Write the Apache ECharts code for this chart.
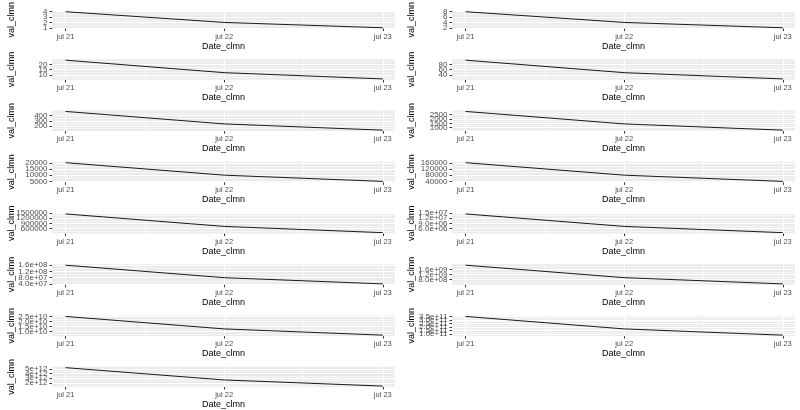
<!DOCTYPE html>
<html><head><meta charset="utf-8">
<script src="https://cdn.jsdelivr.net/npm/echarts@6/dist/echarts.min.js"></script>
<style>html,body{margin:0;padding:0;background:#fff}#c{width:800px;height:410px}</style>
</head><body><div id="c"></div>
<script>
// ---- data ----
const dates = ["jul 21", "jul 22", "jul 23"];
const jul21 = [4, 8, 24, 96, 480, 2880, 20160, 161280, 1451520, 14515200, 159667200, 1916006400, 24908083200, 348713164800, 5230697472000];
const jul22 = [2, 4, 12, 48, 240, 1440, 10080, 80640, 725760, 7257600, 79833600, 958003200, 12454041600, 174356582400, 2615348736000];
const jul23 = [1, 2, 6, 24, 120, 720, 5040, 40320, 362880, 3628800, 39916800, 479001600, 6227020800, 87178291200, 1307674368000];
const yTicks = [
  [1, 2, 3, 4],
  [2, 4, 6, 8],
  [10, 15, 20],
  [40, 60, 80],
  [200, 300, 400],
  [1000, 1500, 2000, 2500],
  [5000, 10000, 15000, 20000],
  [40000, 80000, 120000, 160000],
  [600000, 900000, 1200000, 1500000],
  [6e6, 9e6, 1.2e7, 1.5e7],
  [4e7, 8e7, 1.2e8, 1.6e8],
  [8e8, 1.2e9, 1.6e9],
  [1e10, 1.5e10, 2e10, 2.5e10],
  [1e11, 1.5e11, 2e11, 2.5e11, 3e11, 3.5e11],
  [2e12, 3e12, 4e12, 5e12]
];
const yTickLabels = [
  ["1", "2", "3", "4"],
  ["2", "4", "6", "8"],
  ["10", "15", "20"],
  ["40", "60", "80"],
  ["200", "300", "400"],
  ["1000", "1500", "2000", "2500"],
  ["5000", "10000", "15000", "20000"],
  ["40000", "80000", "120000", "160000"],
  ["600000", "900000", "1200000", "1500000"],
  ["6.0e+06", "9.0e+06", "1.2e+07", "1.5e+07"],
  ["4.0e+07", "8.0e+07", "1.2e+08", "1.6e+08"],
  ["8.0e+08", "1.2e+09", "1.6e+09"],
  ["1.0e+10", "1.5e+10", "2.0e+10", "2.5e+10"],
  ["1.0e+11", "1.5e+11", "2.0e+11", "2.5e+11", "3.0e+11", "3.5e+11"],
  ["2e+12", "3e+12", "4e+12", "5e+12"]
];
const xTitle = "Date_clmn";
const yTitle = "val_clmn";

// ---- layout / style ----
const FONT = "Liberation Sans";
const ROW_H = 51.25, PANEL_TOP = 8, PANEL_H = 20.6;
const COL_LEFT = [52, 452], PANEL_W = 343;
const X_MIN = -0.085, X_MAX = 2.077;
const LABEL_COLOR = '#4D4D4D', TICK_COLOR = '#333333';

const chart = echarts.init(document.getElementById('c'), null, {renderer: 'canvas'});
const grid = [], xAxis = [], yAxis = [], series = [];

for (let i = 0; i < jul21.length; i++) {
  const row = Math.floor(i / 2), col = i % 2;
  grid.push({
    left: COL_LEFT[col], top: row * ROW_H + PANEL_TOP, width: PANEL_W, height: PANEL_H,
    show: true, backgroundColor: '#EBEBEB', borderWidth: 0, containLabel: false
  });
  const vals = [jul21[i], jul22[i], jul23[i]];
  const lo = Math.min(...vals), hi = Math.max(...vals), pad = 0.05 * (hi - lo);
  const yMin = lo - pad, yMax = hi + pad;
  const ticks = yTicks[i], labels = yTickLabels[i];
  const step = ticks[1] - ticks[0];
  const minors = [];
  if (ticks[0] - step / 2 >= yMin) minors.push(ticks[0] - step / 2);
  for (let k = 0; k < ticks.length - 1; k++) minors.push((ticks[k] + ticks[k + 1]) / 2);
  if (ticks[ticks.length - 1] + step / 2 <= yMax) minors.push(ticks[ticks.length - 1] + step / 2);

  // minor x grid
  xAxis.push({
    type: 'value', gridIndex: i, min: X_MIN, max: X_MAX, position: 'bottom',
    axisLine: {show: false}, axisTick: {show: false, customValues: [0.5, 1.5]},
    axisLabel: {show: false, customValues: [0.5, 1.5]},
    splitLine: {show: true, lineStyle: {color: '#FFFFFF', width: 0.5}}
  });
  // major x axis
  const xIdx = xAxis.length;
  xAxis.push({
    type: 'value', gridIndex: i, min: X_MIN, max: X_MAX, position: 'bottom',
    name: xTitle, nameLocation: 'middle', nameGap: 13,
    nameTextStyle: {fontFamily: FONT, fontSize: 9, color: '#000'},
    axisLine: {show: false},
    axisTick: {show: true, length: 2.5, customValues: [0, 1, 2], lineStyle: {color: TICK_COLOR, width: 1}},
    axisLabel: {show: true, customValues: [0, 1, 2], margin: 4, fontFamily: FONT, fontSize: 7.5, color: LABEL_COLOR,
      showMinLabel: true, showMaxLabel: true, hideOverlap: false,
      formatter: v => dates[Math.round(v)]},
    splitLine: {show: true, lineStyle: {color: '#FFFFFF', width: 1}}
  });
  // minor y grid
  yAxis.push({
    type: 'value', gridIndex: i, min: yMin, max: yMax, position: 'left',
    axisLine: {show: false}, axisTick: {show: false, customValues: minors},
    axisLabel: {show: false, customValues: minors},
    splitLine: {show: true, lineStyle: {color: '#FFFFFF', width: 0.5}}
  });
  // major y grid + title
  const yIdx = yAxis.length;
  yAxis.push({
    type: 'value', gridIndex: i, min: yMin, max: yMax, position: 'left',
    name: yTitle, nameLocation: 'middle', nameRotate: 90, nameGap: 36,
    nameTextStyle: {fontFamily: FONT, fontSize: 9, color: '#000'},
    axisLine: {show: false},
    axisTick: {show: false, customValues: ticks},
    axisLabel: {show: false, customValues: ticks},
    splitLine: {show: true, lineStyle: {color: '#FFFFFF', width: 1}}
  });
  // one axis per tick label (labels overlap in the original, as in ggplot)
  ticks.forEach((t, k) => {
    yAxis.push({
      type: 'value', gridIndex: i, min: yMin, max: yMax, position: 'left',
      axisLine: {show: false},
      axisTick: {show: true, length: 2.5, customValues: [t], lineStyle: {color: TICK_COLOR, width: 1}},
      axisLabel: {show: true, customValues: [t], margin: 4.5, fontFamily: FONT, fontSize: 8, color: LABEL_COLOR,
        showMinLabel: true, showMaxLabel: true, hideOverlap: false,
        formatter: () => labels[k]},
      splitLine: {show: false}
    });
  });
  series.push({
    type: 'line', xAxisIndex: xIdx, yAxisIndex: yIdx,
    data: vals.map((v, k) => [k, v]),
    showSymbol: false, symbol: 'none', silent: true, animation: false,
    lineStyle: {color: '#1a1a1a', width: 1}
  });
}

chart.setOption({
  animation: false,
  textStyle: {fontFamily: FONT},
  grid, xAxis, yAxis, series
});
</script>
</body></html>
